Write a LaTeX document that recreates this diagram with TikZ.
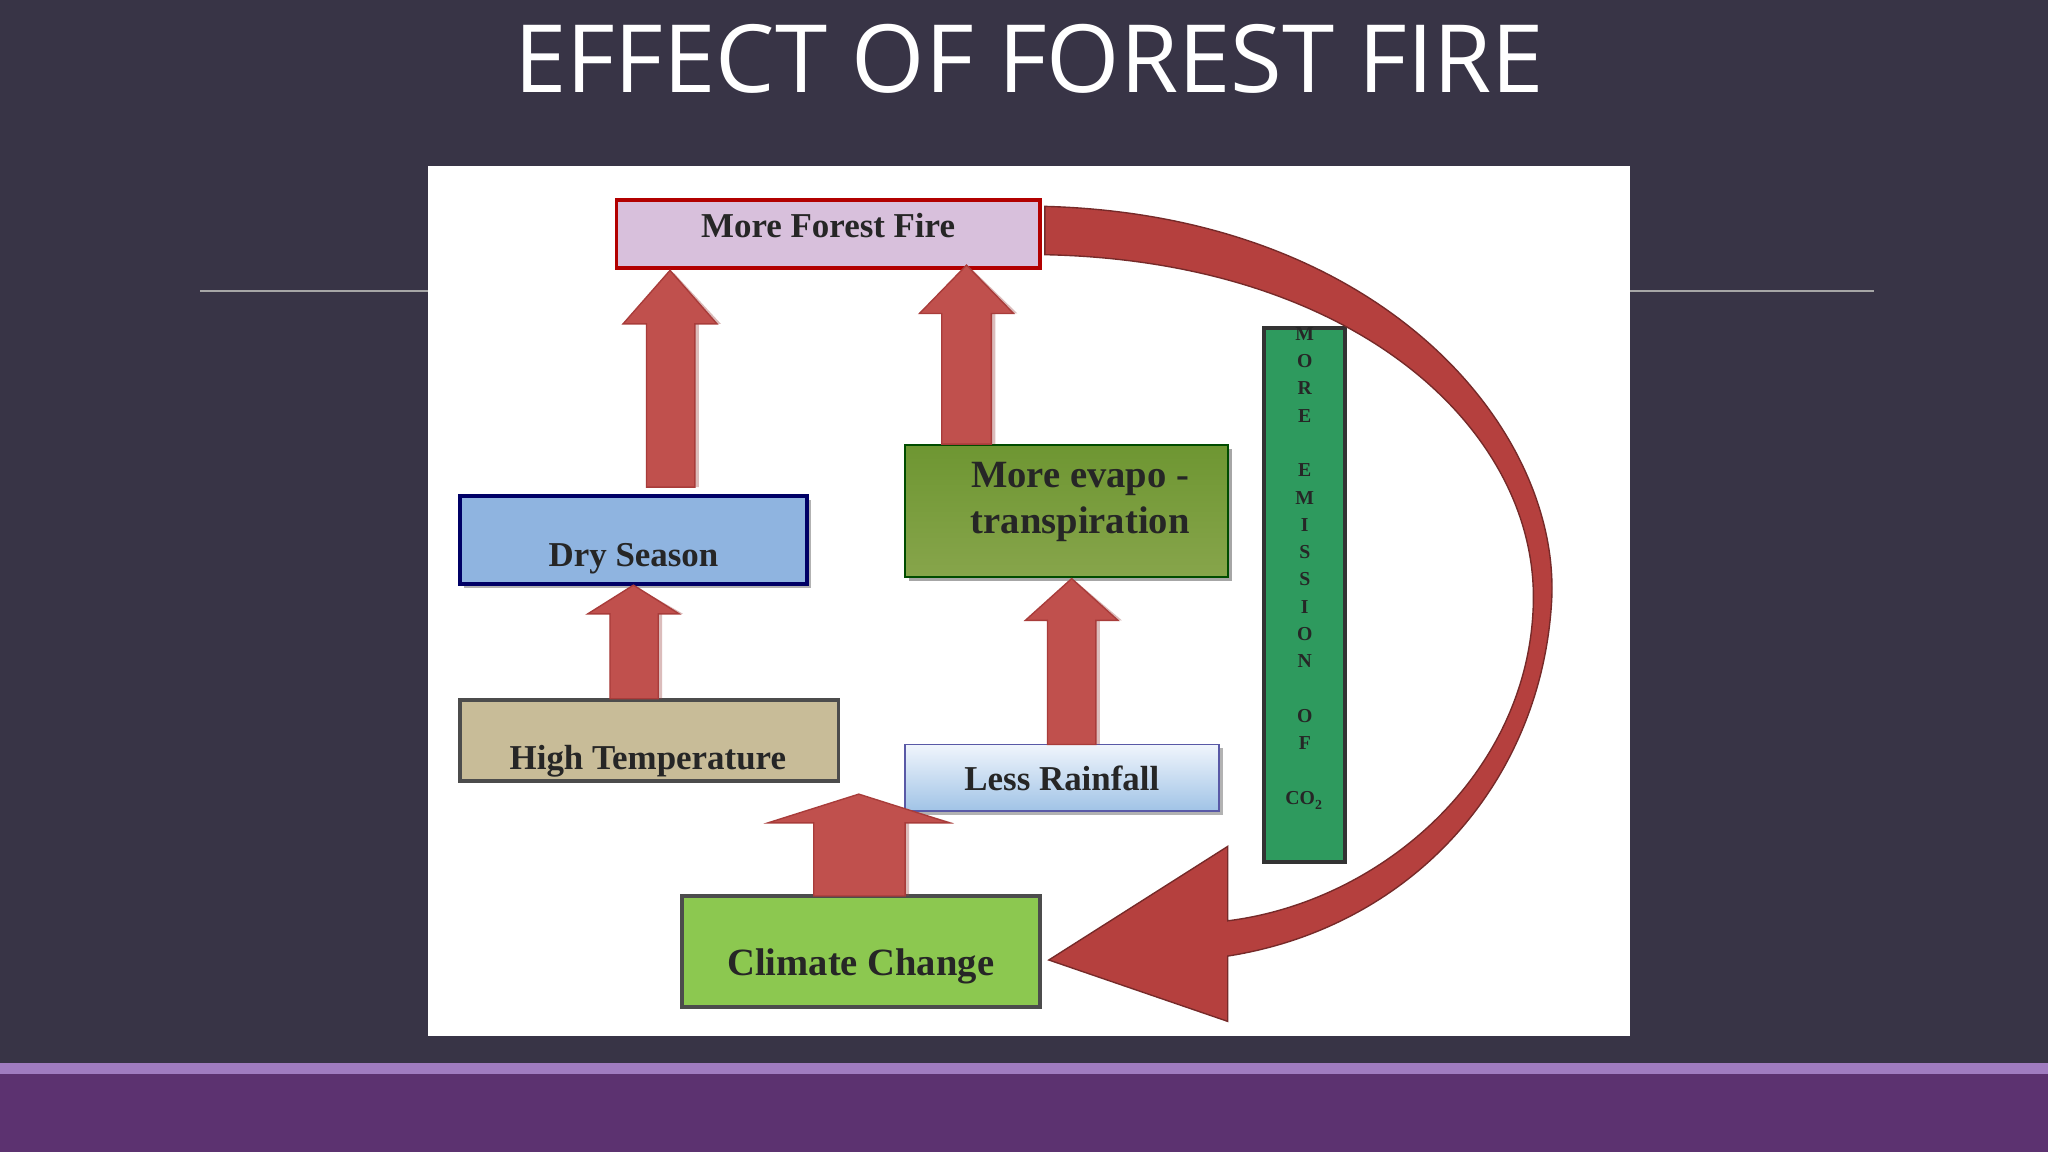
\documentclass[tikz,border=0pt]{standalone}
\usepackage{fontspec}
\setmainfont{Liberation Serif}
\newfontfamily\titlefont{Open Sans}
\definecolor{bg}{HTML}{383446}
\definecolor{arr}{HTML}{C0504D}
\definecolor{arrd}{HTML}{A83C3A}
\definecolor{stripe}{RGB}{160,124,192}
\definecolor{band}{RGB}{92,50,112}
\definecolor{firec}{RGB}{216,192,220}
\definecolor{dryc}{RGB}{143,180,224}
\definecolor{tempc}{RGB}{200,188,152}
\definecolor{evt}{RGB}{110,150,50}
\definecolor{evb}{RGB}{135,165,75}
\definecolor{rnt}{RGB}{240,245,252}
\definecolor{rnb}{RGB}{160,195,230}
\definecolor{clim}{RGB}{140,200,80}
\definecolor{co2c}{RGB}{46,154,94}
\definecolor{bigarr}{RGB}{181,64,62}
\tikzset{
 box/.style={draw=#1, line width=0.8pt},
 lbl/.style={font=\bfseries\fontsize{7.6}{9}\selectfont, text=black!85},
 blk/.style={fill=arr, draw=arrd, line width=0.3pt}
}
\newcommand\uparr[7]{% shaft x1,x2, base y, head xl,xr, neck y, tip y
 \fill[arr!80!black,opacity=0.35] ({#1+3},#3) -- ({#1+3},#6) -- ({#4+3},#6) -- ({(#4+#5)/2+3},#7+2) -- ({#5+3},#6) -- ({#2+3},#6) -- ({#2+3},#3) -- cycle;
 \draw[blk] (#1,#3) -- (#1,#6) -- (#4,#6) -- ({(#4+#5)/2},#7) -- (#5,#6) -- (#2,#6) -- (#2,#3) -- cycle;}
\begin{document}
\begin{tikzpicture}[x=0.01cm,y=-0.01cm]
\useasboundingbox (0,0) rectangle (1568,882);
\fill[bg] (0,0) rectangle (1568,882);
\fill[stripe] (0,814) rectangle (1568,822);
\fill[band] (0,822) rectangle (1568,882);
\node[font=\titlefont\fontsize{20.5}{24}\selectfont, text=white] (title) at (788,45) {EFFECT OF FOREST FIRE};
\draw[gray!70, line width=0.5pt] (153,223) -- (328,223) (1248,223) -- (1435,223);
\fill[white] (328,127) rectangle (1248,793);
% boxes
\draw[box=red!70!black, fill=firec] (472,153) rectangle (796,205);
\node[lbl] (fire) at (634,173) {More Forest Fire};
\fill[black!30] (355,383) rectangle (621,450);
\draw[box=blue!40!black, fill=dryc] (352,380) rectangle (618,447);
\node[lbl] (dry) at (485,428) {Dry Season};
\draw[box=black!70, fill=tempc] (352,536) rectangle (642,598);
\node[lbl] (temp) at (496,583) {High Temperature};
\fill[black!35] (696,344) rectangle (943,445);
\shade[top color=evt, bottom color=evb, draw=green!30!black] (693,341) rectangle (940,442);
\node[lbl, align=center, font=\bfseries\fontsize{8.4}{10}\selectfont] (evap) at (827,384) {More evapo -\\transpiration};
\fill[black!30] (696,573) rectangle (936,624);
\shade[top color=rnt, bottom color=rnb, draw=blue!30!gray] (693,570) rectangle (933,621);
\node[lbl] (rain) at (813,596) {Less Rainfall};
\draw[box=black!70, fill=clim] (522,686) rectangle (796,771);
\node[lbl, font=\bfseries\fontsize{8.4}{10}\selectfont] (climate) at (659,740) {Climate Change};
\draw[box=black!80, fill=co2c] (968,251) rectangle (1030,660);
\node[font=\bfseries\fontsize{4.3}{5.95}\selectfont, align=center, text=black!85] (co2) at (999,435)
 {M\\O\\R\\E\\[5.95pt]E\\M\\I\\S\\S\\I\\O\\N\\[5.95pt]O\\F\\[5.95pt]CO\textsubscript{2}};
% block arrows
\uparr{495}{532}{373}{477}{549}{248}{207}
\uparr{721}{759}{340}{704}{776}{240}{203}
\uparr{467}{504}{535}{450}{520}{470}{448}
\uparr{802}{839}{570}{785}{856}{475}{443}
\uparr{623}{693}{686}{588}{727}{630}{608}
% big curved arrow
\fill[bigarr, draw=arrd!70!black, line width=0.3pt]
 (800,158) .. controls (1060,165) and (1195,330) .. (1188,460)
 .. controls (1180,600) and (1080,710) .. (940,732) -- (940,782) -- (803,735) -- (940,648) -- (940,705)
 .. controls (1060,690) and (1172,590) .. (1174,460)
 .. controls (1176,330) and (1040,200) .. (800,195) -- cycle;
\coordinate (tip) at (803,735);
\end{tikzpicture}
\end{document}
